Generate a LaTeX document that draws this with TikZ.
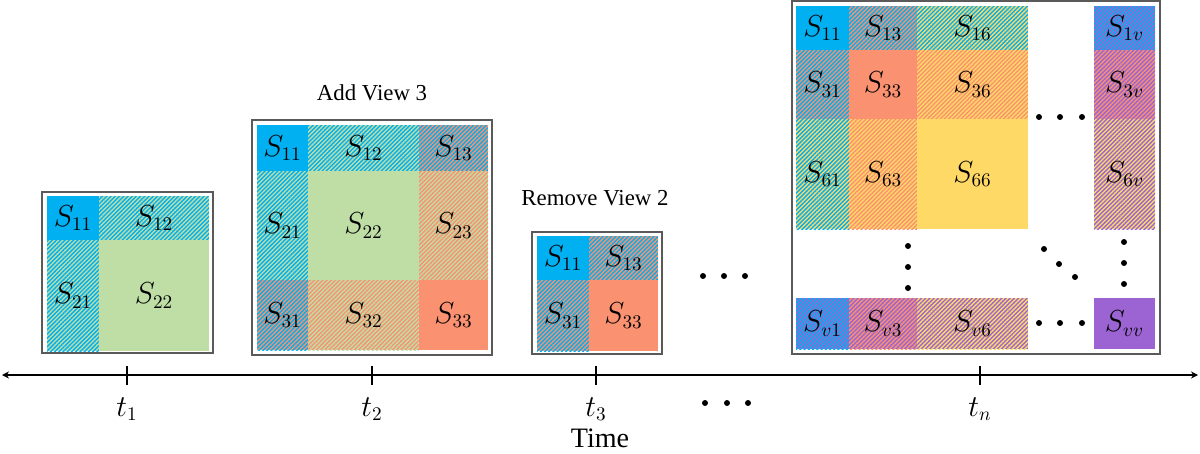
\documentclass[tikz,border=0pt]{standalone}
\usepackage{fontspec}
\setmainfont{Liberation Serif}
\usetikzlibrary{patterns.meta,calc,arrows.meta}
\definecolor{c1}{RGB}{0,176,240}
\definecolor{c2}{RGB}{190,222,165}
\definecolor{c3}{RGB}{250,145,112}
\definecolor{c6}{RGB}{255,217,102}
\definecolor{cv}{RGB}{155,100,210}
\definecolor{boxgray}{RGB}{90,90,90}
\tikzset{
  celltext/.style={inner sep=0pt,font=\fontsize{16}{18}\selectfont},
  framebox/.style={draw=boxgray,line width=0.7pt},
  bigdot/.style={fill=black},
  lbl/.style={font=\fontsize{13}{15}\selectfont},
  axis/.style={line width=1.1pt,{Stealth[length=4pt,width=4pt]}-{Stealth[length=4pt,width=4pt]}},
  tick/.style={line width=0.7pt},
}
% \cellbox{name}{x1}{y1}{x2}{y2}{base}{stripe}{label}
\newcommand\cellbox[8]{%
  \fill[#6] (#2,#3) rectangle (#4,#5);
  \fill[pattern={Lines[angle=45,distance=1.7pt,line width=0.8pt]},pattern color=#7] (#2,#3) rectangle (#4,#5);
  \node[celltext] (#1) at ($(#2,#3)!0.5!(#4,#5)$) {$S_{#8}$};
}
\newcommand\solidcell[7]{%
  \fill[#6] (#2,#3) rectangle (#4,#5);
  \node[celltext] (#1) at ($(#2,#3)!0.5!(#4,#5)$) {$S_{#7}$};
}
\newcommand\bdot[1]{\fill[bigdot] (#1) circle (3);}
\begin{document}
\begin{tikzpicture}[x=0.02cm,y=-0.02cm]
\useasboundingbox (0,0) rectangle (1200,453);
% ---------- matrix 1
\node[framebox,minimum width=171*0.02cm,minimum height=161*0.02cm,inner sep=0pt] (m1) at (127.5,272.5) {};
\solidcell{a11}{47}{196}{99}{240}{c1}{11}
\cellbox{a12}{99}{196}{209}{240}{c1}{c2}{12}
\cellbox{a21}{47}{240}{99}{351}{c2}{c1}{21}
\solidcell{a22}{99}{240}{209}{351}{c2}{22}
% ---------- matrix 2
\node[framebox,minimum width=240*0.02cm,minimum height=235*0.02cm,inner sep=0pt] (m2) at (372,237.5) {};
\solidcell{b11}{257}{125}{308}{171}{c1}{11}
\cellbox{b12}{308}{125}{419}{171}{c1}{c2}{12}
\cellbox{b13}{419}{125}{488}{171}{c1}{c3}{13}
\cellbox{b21}{257}{171}{308}{280}{c2}{c1}{21}
\solidcell{b22}{308}{171}{419}{280}{c2}{22}
\cellbox{b23}{419}{171}{488}{280}{c2}{c3}{23}
\cellbox{b31}{257}{280}{308}{350}{c3}{c1}{31}
\cellbox{b32}{308}{280}{419}{350}{c3}{c2}{32}
\solidcell{b33}{419}{280}{488}{350}{c3}{33}
\node[lbl] (add) at (372,93) {Add View 3};
% ---------- matrix 3
\node[framebox,minimum width=130*0.02cm,minimum height=122*0.02cm,inner sep=0pt] (m3) at (597,293) {};
\solidcell{c11}{537}{236}{589}{280}{c1}{11}
\cellbox{c13}{589}{236}{658}{280}{c1}{c3}{13}
\cellbox{c31}{537}{280}{589}{351}{c3}{c1}{31}
\solidcell{c33}{589}{280}{658}{351}{c3}{33}
\node[lbl] (rem) at (595,198) {Remove View 2};
% ---------- dots between
\coordinate (g1) at (703,276);\coordinate (g2) at (724,276);\coordinate (g3) at (745,276);
\bdot{g1}\bdot{g2}\bdot{g3}
% ---------- matrix 4
\node[framebox,minimum width=368*0.02cm,minimum height=353*0.02cm,inner sep=0pt] (m4) at (976,177.5) {};
\solidcell{d11}{796}{6}{849}{50}{c1}{11}
\cellbox{d13}{849}{6}{917}{50}{c1}{c3}{13}
\cellbox{d16}{917}{6}{1028}{50}{c1}{c6}{16}
\cellbox{d1v}{1094}{6}{1155}{50}{c1}{cv}{1v}
\cellbox{d31}{796}{50}{849}{119}{c3}{c1}{31}
\solidcell{d33}{849}{50}{917}{119}{c3}{33}
\cellbox{d36}{917}{50}{1028}{119}{c3}{c6}{36}
\cellbox{d3v}{1094}{50}{1155}{119}{c3}{cv}{3v}
\cellbox{d61}{796}{119}{849}{229}{c6}{c1}{61}
\cellbox{d63}{849}{119}{917}{229}{c6}{c3}{63}
\solidcell{d66}{917}{119}{1028}{229}{c6}{66}
\cellbox{d6v}{1094}{119}{1155}{229}{c6}{cv}{6v}
\cellbox{dv1}{796}{298}{849}{349}{cv}{c1}{v1}
\cellbox{dv3}{849}{298}{917}{349}{cv}{c3}{v3}
\cellbox{dv6}{917}{298}{1028}{349}{cv}{c6}{v6}
\solidcell{dvv}{1094}{298}{1155}{349}{cv}{vv}
% dots in matrix 4
\coordinate (h1) at (1039,117);\coordinate (h2) at (1060,117);\coordinate (h3) at (1082,117);
\bdot{h1}\bdot{h2}\bdot{h3}
\coordinate (k1) at (1039,323);\coordinate (k2) at (1060,323);\coordinate (k3) at (1082,323);
\bdot{k1}\bdot{k2}\bdot{k3}
\coordinate (v1) at (908,246);\coordinate (v2) at (908,267);\coordinate (v3) at (908,288);
\bdot{v1}\bdot{v2}\bdot{v3}
\coordinate (r1) at (1124,242);\coordinate (r2) at (1124,263);\coordinate (r3) at (1124,284);
\bdot{r1}\bdot{r2}\bdot{r3}
\coordinate (q1) at (1044,249);\coordinate (q2) at (1059,264);\coordinate (q3) at (1075,277);
\bdot{q1}\bdot{q2}\bdot{q3}
% ---------- axis
\coordinate (axl) at (2,375);
\coordinate (axr) at (1198,375);
\draw[axis] (axl) -- (axr);
\foreach \n/\x/\s in {1/127/1,2/372/2,3/596/3,n/980/n}{
  \coordinate (tt\n) at (\x,366);
  \coordinate (tb\n) at (\x,385);
  \draw[tick] (tt\n) -- (tb\n);
  \node[font=\fontsize{16}{18}\selectfont] (lab\n) at (\x,409) {$t_{\s}$};
}
\coordinate (e1) at (705,403);\coordinate (e2) at (727,403);\coordinate (e3) at (748,403);
\bdot{e1}\bdot{e2}\bdot{e3}
\node[font=\fontsize{16}{18}\selectfont] (time) at (600,438) {Time};
\end{tikzpicture}
\end{document}
